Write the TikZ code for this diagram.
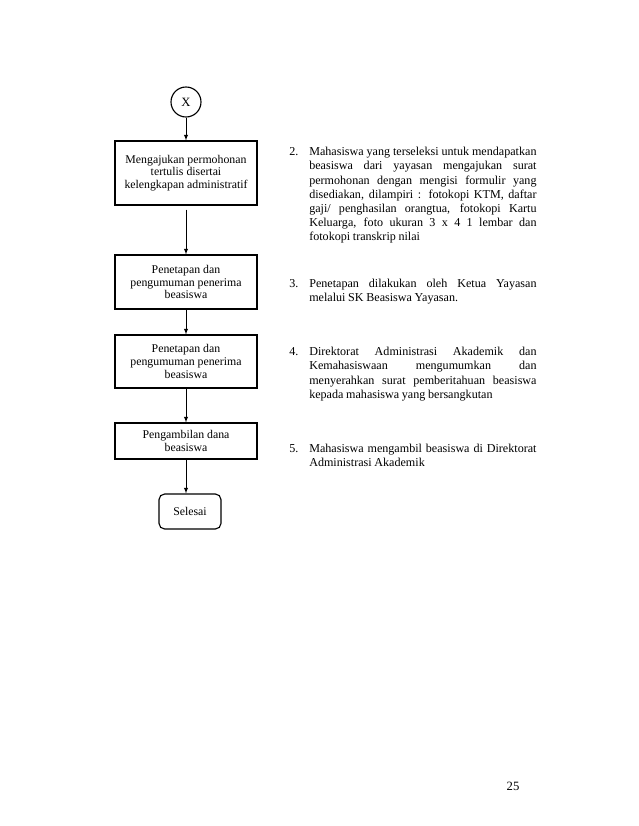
\documentclass[tikz,border=0pt]{standalone}
\usepackage{fontspec}
\setmainfont{Liberation Serif}
\usetikzlibrary{positioning}
\tikzset{>=latex}
\newcommand\ketfont{\fontsize{8.6}{10.1}\selectfont\hyphenpenalty=10000\relax\spaceskip=0.22em plus 1em minus 0.1em\relax}
\tikzset{
  langkah/.style={draw,thick,minimum width=3.55cm,align=center,inner sep=1pt,font=\fontsize{8.4}{9}\selectfont},
  akhir/.style={draw,thick,rounded corners=4pt,minimum width=1.55cm,minimum height=0.875cm,font=\fontsize{8.4}{9}\selectfont},
  ket/.style={anchor=north west,text width=5.68cm,align=justify,inner sep=0pt,font=\ketfont},
  nomor/.style={anchor=north west,inner sep=0pt,font=\ketfont},
  panah/.style={->,thin}
}
\begin{document}
\begin{tikzpicture}[x=0.025cm,y=-0.025cm]
            \useasboundingbox (0,0) rectangle (638,826);
            % alur
            \node[draw,thick,circle,minimum size=0.75cm,inner sep=0pt,font=\fontsize{9}{11}\selectfont] (x) at (186,102) {X};
            \node[langkah,minimum height=1.6cm] (s1) at (186,173) {Mengajukan permohonan\\tertulis disertai\\kelengkapan administratif};
            \node[langkah,minimum height=1.35cm] (s2) at (186,282) {Penetapan dan\\pengumuman penerima\\beasiswa};
            \node[langkah,minimum height=1.325cm] (s3) at (186,361.5) {Penetapan dan\\pengumuman penerima\\beasiswa};
            \node[langkah,minimum height=0.9cm] (s4) at (186,441) {Pengambilan dana\\beasiswa};
            \node[akhir] (s5) at (190,511.5) {Selesai};
            \draw[panah] (x) -- (s1);
            \draw[panah] ([yshift=-0.1cm]s1.south) -- (s2);
            \foreach \a/\b in {s2/s3,s3/s4}
                \draw[panah] (\a) -- (\b);
            \draw[panah] (s4.south) -- (s4.south |- s5.north);
            % keterangan
            \node[nomor] (n2) at (289,147) {2.};
            \node[ket] (k2) at (309,147) {Mahasiswa yang terseleksi untuk mendapatkan\linebreak beasiswa dari yayasan mengajukan surat\linebreak permohonan dengan mengisi formulir yang\linebreak disediakan, dilampiri : fotokopi KTM, daftar\linebreak gaji/ penghasilan orangtua, fotokopi Kartu\linebreak Keluarga, foto ukuran 3 x 4 1 lembar dan\linebreak fotokopi transkrip nilai};
            \node[nomor] (n3) at (289,279) {3.};
            \node[ket] (k3) at (309,279) {Penetapan dilakukan oleh Ketua Yayasan\linebreak melalui SK Beasiswa Yayasan.};
            \node[nomor] (n4) at (289,347) {4.};
            \node[ket] (k4) at (309,347) {Direktorat Administrasi Akademik dan\linebreak Kemahasiswaan mengumumkan dan\linebreak menyerahkan surat pemberitahuan beasiswa\linebreak kepada mahasiswa yang bersangkutan};
            \node[nomor] (n5) at (289,444) {5.};
            \node[ket] (k5) at (309,444) {Mahasiswa mengambil beasiswa di Direktorat\linebreak Administrasi Akademik};
            \node[font=\fontsize{9}{11}\selectfont] (hal) at (513,786) {25};
        \end{tikzpicture}
\end{document}
